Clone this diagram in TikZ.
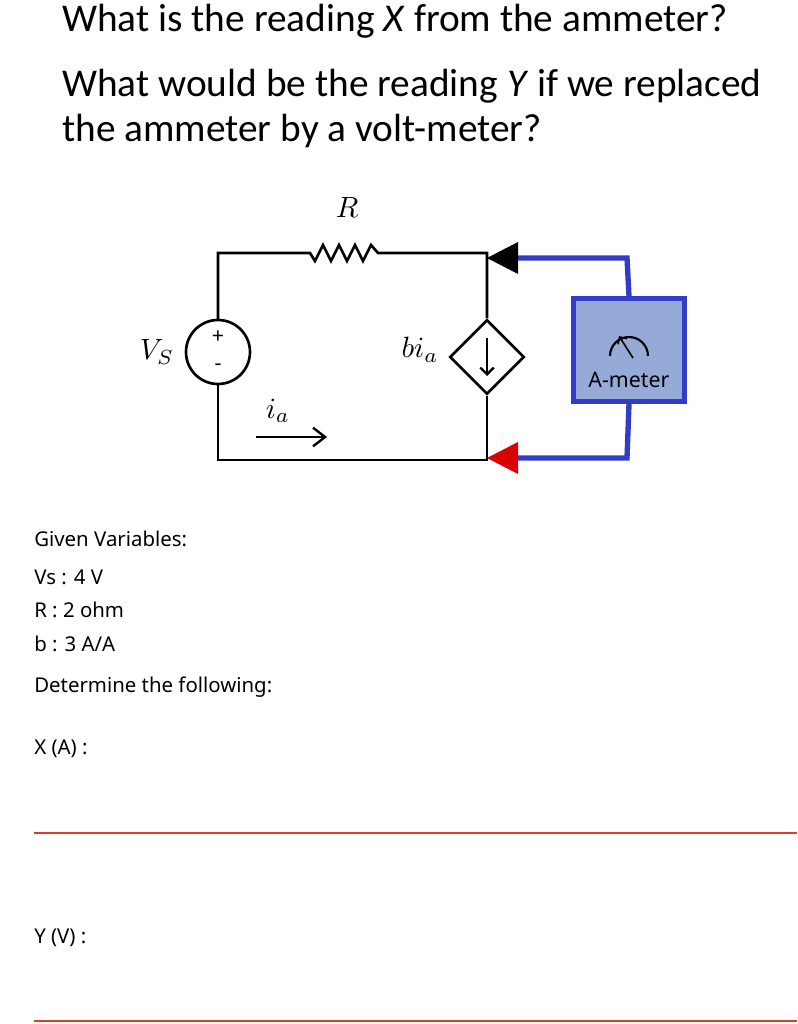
\documentclass[tikz,border=0pt]{standalone}
\usepackage{fontspec}
\usepackage{amsmath}
\setmainfont{Noto Sans}
\newfontfamily\titlefont{Carlito}
\usetikzlibrary{shapes.geometric,arrows.meta}
\definecolor{wireblue}{RGB}{50,60,200}
\definecolor{meterfill}{RGB}{150,170,215}
\definecolor{redl}{RGB}{225,60,40}
\begin{document}
\begin{tikzpicture}[x=0.75pt,y=-0.75pt,
  wire/.style={line width=2pt},
  bwire/.style={line width=4pt,wireblue},
  title/.style={anchor=base west,font=\titlefont\fontsize{29.5}{34}\selectfont,inner sep=0},
  body/.style={anchor=base west,font=\fontsize{15.3}{18}\selectfont,inner sep=0},
  lab/.style={inner sep=0}]
\fill[white] (0,0) rectangle (797,1024);
\useasboundingbox (0,0) rectangle (797,1024);
% titles
\node[title] (t1) at (62,32) {What is the reading \textit{X} from the ammeter?};
\node[title] (t2) at (62,97) {What would be the reading \textit{Y} if we replaced};
\node[title] (t3) at (62,142) {the ammeter by a volt-meter?};
% circuit
\coordinate (tl) at (218,253);
\coordinate (tr) at (487,253);
\coordinate (bl) at (218,460);
\coordinate (br) at (487,460);
\coordinate (vs) at (218,352);
\coordinate (vsn) at (218,320);
\coordinate (vss) at (218,384);
\draw[line width=2pt] (vs) circle[radius=24pt];
\node[font=\bfseries\fontsize{16}{16}\selectfont] (plus) at (218,337) {+};
\node[font=\bfseries\fontsize{16}{16}\selectfont] (minus) at (218,367) {-};
\node[diamond,draw,line width=2pt,minimum size=56pt,inner sep=0] (dep) at (487,357) {};
\draw[line width=1.8pt,-{Straight Barb[length=5pt]}] (487,338) -- (487,376);
\coordinate (r1) at (310,253);
\draw[wire] (vsn) -- (tl) -- (r1)
  -- ++(5,8) -- ++(8,-16) -- ++(8,16) -- ++(8,-16) -- ++(8,16) -- ++(8,-16) -- ++(8,16) -- ++(8,-16) -- ++(7,8)
  -- (tr) -- (dep.north);
\draw[wire] (vss) -- (bl) -- (br) -- (dep.south);
\node[lab] (R) at (347,207) {\scalebox{2.2}{$R$}};
\node[lab] (Vs) at (157,352) {\scalebox{2.2}{$V_S$}};
\node[lab] (bia) at (420,350) {\scalebox{2.2}{$bi_a$}};
\node[lab] (ia) at (278,411) {\scalebox{2.2}{$i_a$}};
\coordinate (a1) at (256,437);
\coordinate (a2) at (327,437);
\draw[line width=1.8pt,-{Straight Barb[length=9pt,width=14pt]}] (a1) -- (a2);
% ammeter
\node[draw=wireblue,fill=meterfill,line width=4pt,minimum width=83pt,minimum height=77pt,inner sep=0] (am) at (629,350) {};
\node[font=\bfseries\fontsize{16}{16}\selectfont,inner sep=0] (amt) at (629,380) {A-meter};
\draw[line width=1.6pt] (610,356) arc (180:360:19);
\draw[line width=1.2pt,-{Straight Barb[length=4pt]}] (633,358) -- (619,336);
\coordinate (btop) at (627,258);
\coordinate (bbot) at (627,458);
\draw[bwire] (am.north) -- (btop) -- (515,258);
\draw[bwire] (am.south) -- (bbot) -- (515,458);
\fill[black] (487,258) -- (518,242) -- (518,274) -- cycle;
\fill[red!85!black] (487,458) -- (518,442) -- (518,474) -- cycle;
% body text
\node[body] (g) at (34,546) {Given Variables:};
\node[body] (v1) at (34,584) {Vs : 4 V};
\node[body] (v2) at (34,617) {R : 2 ohm};
\node[body] (v3) at (34,651) {b : 3 A/A};
\node[body] (d) at (34,692) {Determine the following:};
\node[body] (x) at (34,754) {X (A) :};
\node[body] (y) at (34,943) {Y (V) :};
\draw[redl,line width=1pt] (34,833) -- (797,833);
\draw[redl,line width=1pt] (34,1021) -- (797,1021);
\end{tikzpicture}
\end{document}
